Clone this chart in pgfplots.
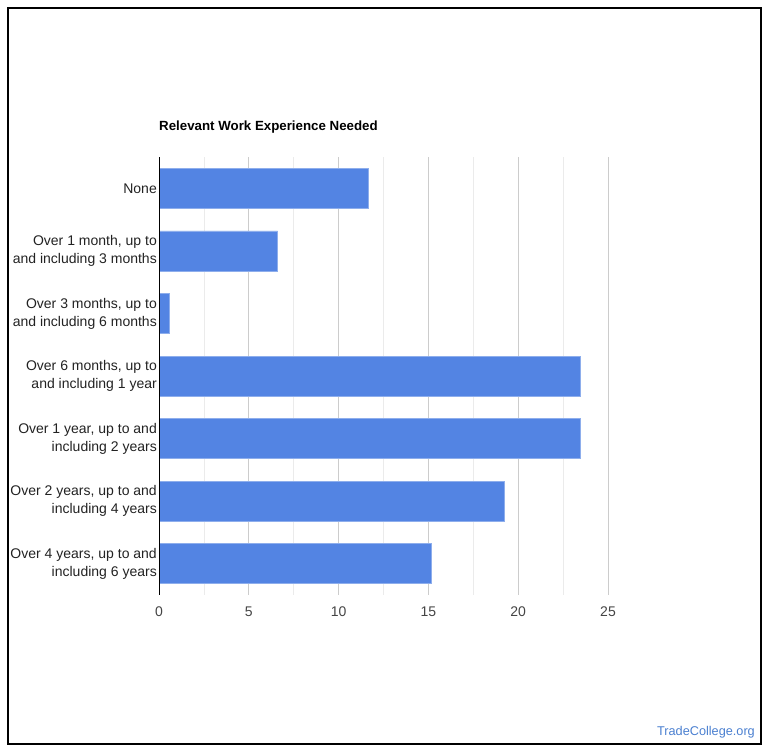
\documentclass[border=0pt]{standalone}
\usepackage{fontspec}
\setmainfont{Liberation Sans}
\usepackage{pgfplots}
\pgfplotsset{compat=1.18}
\definecolor{barblue}{HTML}{5384E3}
\definecolor{baredge}{HTML}{8EAEEC}
\definecolor{txt}{HTML}{222222}
\definecolor{ticktxt}{HTML}{444444}
\definecolor{majgrid}{HTML}{CCCCCC}
\definecolor{mingrid}{HTML}{EBEBEB}
\definecolor{mark}{HTML}{4A7FD0}
\begin{document}
\begin{tikzpicture}
\path[use as bounding box] (0,0) rectangle (770pt,754pt);
\draw[line width=1.5pt] (8pt,10pt) rectangle (761pt,746pt);
\node[anchor=base west, font=\fontsize{13.3}{15}\selectfont\bfseries, text=black, inner sep=0pt] at (159pt,623pt) {Relevant Work Experience Needed};
\node[anchor=base east, font=\fontsize{12.7}{15}\selectfont, text=mark, inner sep=0pt] at (755pt,18pt) {TradeCollege.org};
\begin{axis}[
    at={(159pt,159pt)}, anchor=south west,
    scale only axis, width=449pt, height=438pt,
    xbar, bar width=40pt,
    xmin=0, xmax=25, ymin=-0.5, ymax=6.5,
    y dir=reverse,
    xtick={0,5,...,25},
    minor xtick={2.5,7.5,...,22.5},
    ytick={0,...,6},
    yticklabels={None,
      {Over 1 month, up to\\and including 3 months},
      {Over 3 months, up to\\and including 6 months},
      {Over 6 months, up to\\and including 1 year},
      {Over 1 year, up to and\\including 2 years},
      {Over 2 years, up to and\\including 4 years},
      {Over 4 years, up to and\\including 6 years}},
    yticklabel style={align=right, font=\fontsize{14}{18}\selectfont, text=txt, inner xsep=2pt},
    xticklabel style={font=\fontsize{14}{16}\selectfont, text=ticktxt, yshift=-8pt},
    /pgf/number format/assume math mode=true,
    major tick length=0pt, minor tick length=0pt,
    xmajorgrids, xminorgrids,
    major grid style={majgrid, line width=0.8pt},
    minor grid style={mingrid, line width=0.8pt},
    axis line style={draw=none},
]
\addplot[fill=barblue, draw=baredge, line width=0.6pt] coordinates {
  (11.65,0) (6.6,1) (0.55,2) (23.45,3) (23.45,4) (19.2,5) (15.15,6)};
\draw[black, line width=0.9pt] (axis cs:0,-0.5) -- (axis cs:0,6.5);
\end{axis}
\end{tikzpicture}
\end{document}
